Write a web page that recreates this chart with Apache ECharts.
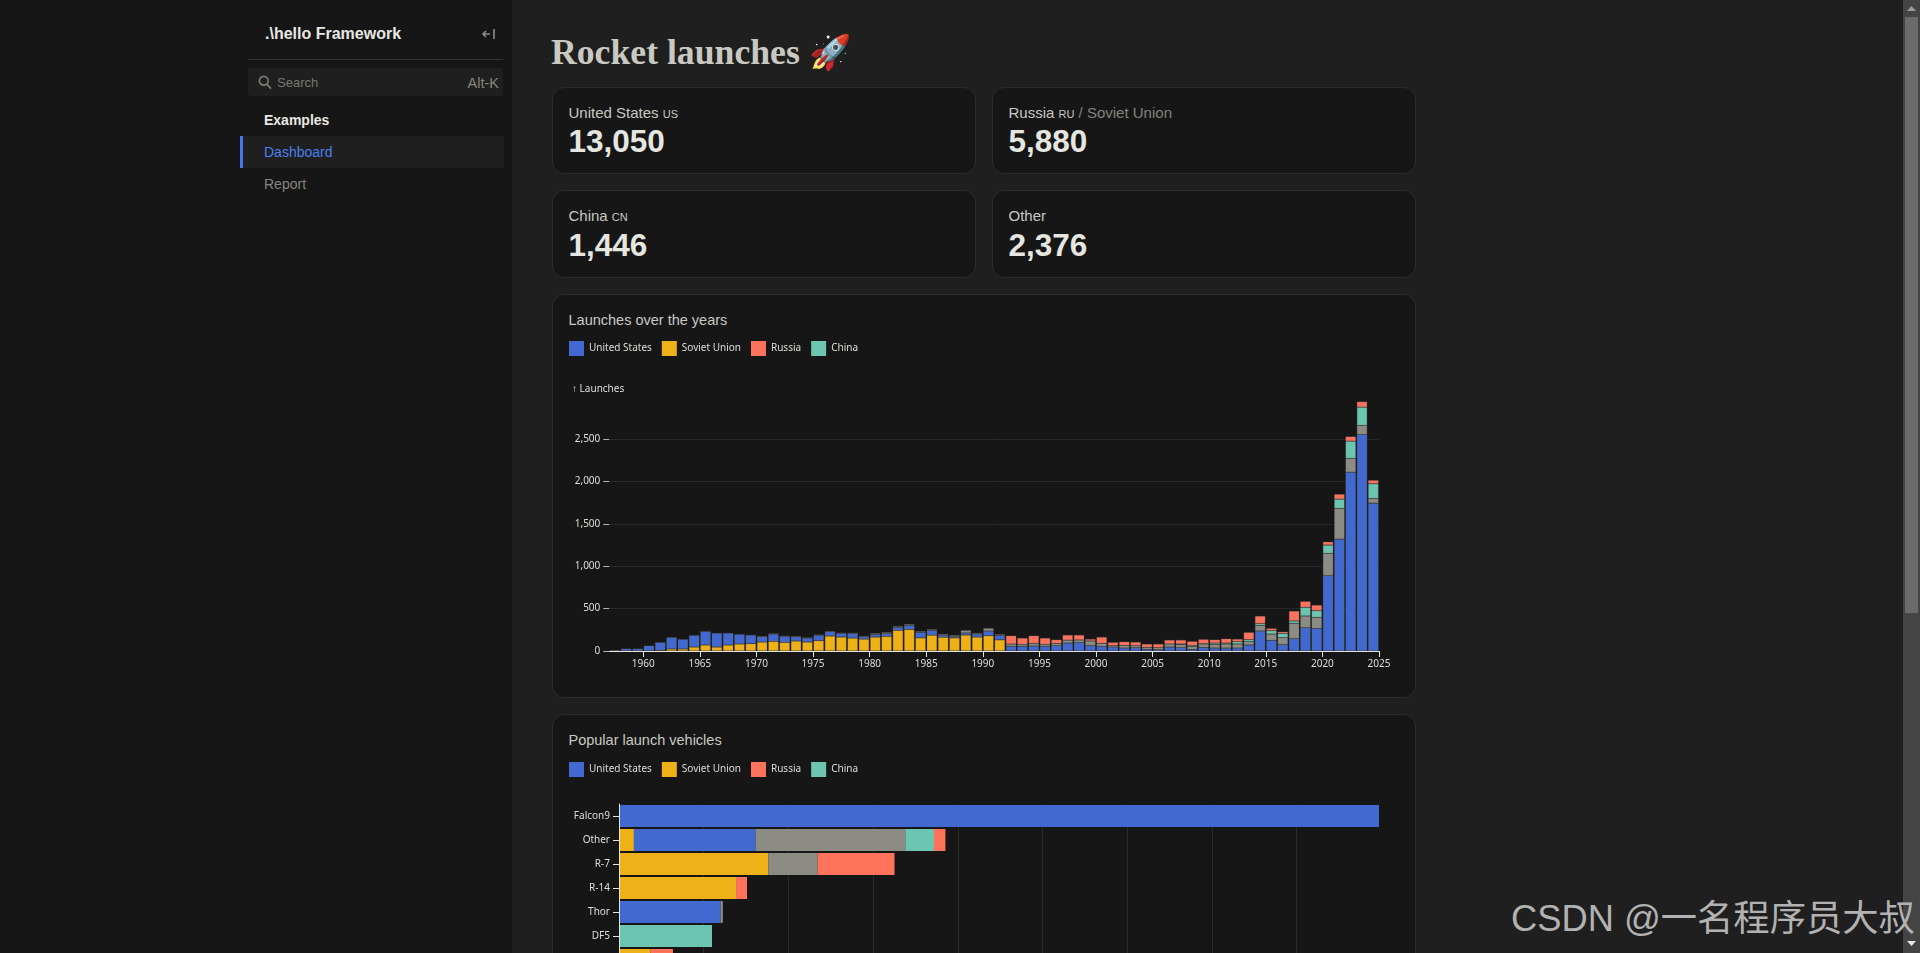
<!DOCTYPE html>
<html>
<head>
<meta charset="utf-8">
<title>Rocket launches</title>
<script src="https://cdn.jsdelivr.net/npm/echarts@6/dist/echarts.min.js"></script>
<style>
  html, body { margin: 0; height: 953px; overflow: hidden; background: #1f1f1f; }
  body { position: relative; width: 1920px; font-family: "Liberation Sans", Arial, sans-serif; color: #c9c9c2; }
  .abs { position: absolute; white-space: nowrap; }
  #sidebar { position: absolute; left: 0; top: 0; width: 512px; height: 953px; background: #161616; }
  .card { position: absolute; box-sizing: border-box; background: #161616; border: 1px solid #2c2c2c; border-radius: 12px; }
  .label { position: absolute; left: 15.5px; top: 15.5px; font-size: 15px; line-height: 18px; white-space: nowrap; }
  .label i { font-style: normal; font-variant: small-caps; }
  .label em { font-style: normal; color: #83837c; }
  .big { position: absolute; left: 15.5px; top: 34.5px; font-size: 31.5px; line-height: 38px; font-weight: 700; color: #e6e6e1; }
  .row1 .big { top: 33.5px; }
  .chart-title { position: absolute; left: 15.5px; top: 16px; font-size: 14.5px; line-height: 18px; }
  .chart { position: absolute; }
  #track { position: absolute; left: 1903px; top: 0; width: 17px; height: 953px; background: #444; }
  #thumb { position: absolute; left: 2px; top: 17px; width: 13px; height: 596px; background: #6b6b6b; }
  #mark { position: absolute; left: 1511px; top: 896px; font-size: 36.3px; line-height: 46px; color: #b2b2b2; white-space: nowrap;
          font-family: "Liberation Sans", "Noto Sans CJK SC", sans-serif; z-index: 5; }
</style>
</head>
<body>
<div id="sidebar"></div>
<div class="abs" style="left:265px;top:24px;font-size:16px;line-height:20px;font-weight:700;color:#e8e8e3">.\hello Framework</div>
<svg class="abs" style="left:481px;top:27px" width="15" height="14" viewBox="0 0 15 14" fill="none" stroke="#8d8d86" stroke-width="1.6"><path d="M9 7H2M5 4L2 7l3 3M13 2v10"/></svg>
<div class="abs" style="left:248px;top:59px;width:255px;height:1px;background:#333"></div>
<div class="abs" style="left:248px;top:68px;width:255px;height:28px;background:#1f1f1f;border-radius:4px"></div>
<svg class="abs" style="left:258px;top:75px" width="14" height="15" viewBox="0 0 14 15" fill="none" stroke="#7b7b74" stroke-width="1.7"><circle cx="5.8" cy="5.8" r="4.4"/><path d="M9 9.2l4 4.4"/></svg>
<div class="abs" style="left:277px;top:75px;font-size:13px;line-height:16px;color:#77776f">Search</div>
<div class="abs" style="right:1421px;top:74.5px;font-size:14.5px;line-height:17px;color:#85857d">Alt-K</div>
<div class="abs" style="left:264px;top:112px;font-size:14px;line-height:17px;font-weight:700;color:#e8e8e3">Examples</div>
<div class="abs" style="left:240px;top:136px;width:264px;height:32px;background:#1f1f1f"></div>
<div class="abs" style="left:240px;top:136px;width:3px;height:32px;background:#4477ee"></div>
<div class="abs" style="left:264px;top:144px;font-size:14px;line-height:17px;color:#4a7ff0">Dashboard</div>
<div class="abs" style="left:264px;top:176px;font-size:14px;line-height:17px;color:#85857d">Report</div>

<div class="abs" style="left:551px;top:30px;font-family:'Liberation Serif',serif;font-weight:700;font-size:35.7px;line-height:44px;color:#c9c9c2">Rocket launches <span style="font-size:34px;line-height:30px">🚀</span></div>

<div class="card row1" style="left:552px;top:87px;width:424px;height:87px">
  <div class="label">United States <i>us</i></div><div class="big">13,050</div>
</div>
<div class="card row1" style="left:992px;top:87px;width:424px;height:87px">
  <div class="label">Russia <i>ru</i> <em>/ Soviet Union</em></div><div class="big">5,880</div>
</div>
<div class="card" style="left:552px;top:190px;width:424px;height:88px">
  <div class="label">China <i>cn</i></div><div class="big">1,446</div>
</div>
<div class="card" style="left:992px;top:190px;width:424px;height:88px">
  <div class="label">Other</div><div class="big">2,376</div>
</div>

<div class="card" style="left:552px;top:294px;width:864px;height:404px">
  <div class="chart-title">Launches over the years</div>
</div>
<div id="chart_years" class="chart" style="left:553px;top:330px;width:862px;height:360px"></div>

<div class="card" style="left:552px;top:714px;width:864px;height:400px">
  <div class="chart-title">Popular launch vehicles</div>
</div>
<div id="chart_vehicles" class="chart" style="left:553px;top:753px;width:862px;height:240px"></div>

<div id="track">
  <svg class="abs" style="left:4px;top:6px" width="9" height="6"><path d="M4.5 0L9 5H0z" fill="#9a9a9a"/></svg>
  <div id="thumb"></div>
  <svg class="abs" style="left:4px;top:941px" width="9" height="6"><path d="M0 0H9L4.5 5z" fill="#e8e8e8"/></svg>
</div>
<div id="mark">CSDN @一名程序员大叔</div>

<script>
const years = [1957, 1958, 1959, 1960, 1961, 1962, 1963, 1964, 1965, 1966, 1967, 1968, 1969,
  1970, 1971, 1972, 1973, 1974, 1975, 1976, 1977, 1978, 1979, 1980, 1981, 1982, 1983, 1984,
  1985, 1986, 1987, 1988, 1989, 1990, 1991, 1992, 1993, 1994, 1995, 1996, 1997, 1998, 1999,
  2000, 2001, 2002, 2003, 2004, 2005, 2006, 2007, 2008, 2009, 2010, 2011, 2012, 2013, 2014,
  2015, 2016, 2017, 2018, 2019, 2020, 2021, 2022, 2023, 2024];

const sovietByYear = [4, 4, 4, 4, 8, 24, 24, 47, 71, 47, 71, 83, 87,
  106, 114, 102, 118, 106, 122, 177, 165, 153, 141, 165, 173, 244, 255, 155,
  187, 163, 155, 189, 165, 181, 132, 0, 0, 0, 0, 0, 0, 0, 0,
  0, 0, 0, 0, 0, 0, 0, 0, 0, 0, 0, 0, 0, 0, 0,
  0, 0, 0, 0, 0, 0, 0, 0, 0, 0];
const usByYear = [4, 24, 24, 59, 94, 137, 114, 138, 161, 165, 141, 114, 102,
  63, 86, 71, 51, 47, 63, 51, 43, 55, 28, 31, 31, 35, 47, 65,
  56, 25, 14, 24, 35, 55, 51, 55, 55, 59, 55, 63, 94, 98, 63,
  55, 47, 35, 39, 20, 16, 47, 39, 20, 43, 35, 35, 35, 71, 236,
  126, 75, 145, 275, 267, 888, 1320, 2110, 2554, 1745];
const otherByYear = [0, 0, 0, 0, 0, 0, 0, 0, 0, 0, 0, 0, 0,
  4, 8, 4, 4, 4, 8, 4, 4, 4, 8, 12, 16, 12, 14, 12,
  12, 12, 16, 31, 12, 33, 14, 27, 24, 31, 24, 27, 34, 32, 55,
  35, 16, 32, 24, 23, 23, 36, 36, 35, 40, 44, 48, 48, 39, 67,
  74, 82, 181, 138, 130, 263, 362, 162, 107, 55];
const chinaByYear = [0, 0, 0, 0, 0, 0, 0, 0, 0, 0, 0, 0, 0,
  0, 0, 0, 0, 0, 0, 0, 0, 0, 0, 0, 0, 0, 0, 0,
  0, 0, 0, 0, 0, 0, 0, 0, 0, 0, 0, 0, 0, 0, 0,
  0, 0, 0, 0, 0, 0, 0, 8, 12, 4, 15, 11, 27, 24, 19,
  40, 51, 28, 102, 79, 99, 110, 204, 216, 173];
const russiaByYear = [0, 0, 0, 0, 0, 0, 0, 0, 0, 0, 0, 0, 0,
  0, 0, 0, 0, 0, 0, 0, 0, 0, 0, 0, 0, 0, 0, 0,
  0, 0, 0, 0, 0, 0, 0, 99, 74, 91, 74, 44, 61, 59, 23,
  75, 39, 43, 43, 40, 44, 47, 47, 47, 51, 40, 51, 31, 86, 91,
  27, 20, 118, 71, 66, 39, 59, 55, 66, 43];

const yearTicks = [1960, 1965, 1970, 1975, 1980, 1985, 1990, 1995, 2000, 2005, 2010, 2015, 2020, 2025];
const launchTicks = [0, 500, 1000, 1500, 2000, 2500];

const vehicles = ["Falcon9", "Other", "R-7", "R-14", "Thor", "DF5", "R-36"];
const sovietByVehicle = [0, 176, 1762, 1382, 0, 0, 373];
const usByVehicle = [8973, 1436, 0, 0, 1199, 0, 0];
const otherByVehicle = [0, 1768, 583, 0, 27, 0, 0];
const chinaByVehicle = [0, 339, 0, 0, 0, 1098, 0];
const russiaByVehicle = [0, 135, 908, 129, 0, 0, 264];

const colors = { us: "#4269d0", soviet: "#efb118", russia: "#ff725c", china: "#6cc5b0", other: "#8c8c85" };
const legendNames = ["United States", "Soviet Union", "Russia", "China"];
const labelColor = "#dededa";
const chartFont = "Noto Sans";

const legend = {
  data: legendNames,
  left: 16,
  padding: 0,
  itemWidth: 15,
  itemHeight: 15,
  itemGap: 10,
  icon: "rect",
  itemStyle: { borderWidth: 0 },
  textStyle: { color: labelColor, fontSize: 10, fontFamily: chartFont }
};

// stacking order is the same in both charts, soviet at the base
function stackSeries(arrays, extra) {
  const defs = [
    ["Soviet Union", colors.soviet, arrays.soviet],
    ["United States", colors.us, arrays.us],
    ["Other", colors.other, arrays.other],
    ["China", colors.china, arrays.china],
    ["Russia", colors.russia, arrays.russia]
  ];
  return defs.map(d => ({
    name: d[0],
    type: "bar",
    stack: "total",
    color: d[1],
    data: d[2].map(v => v || null),
    ...extra
  }));
}

const yearsChart = echarts.init(document.getElementById("chart_years"));
yearsChart.setOption({
  animation: false,
  textStyle: { fontFamily: chartFont },
  legend: { ...legend, top: 11 },
  title: {
    text: "↑ Launches",
    left: 19,
    top: 54,
    padding: 0,
    textStyle: { color: labelColor, fontSize: 10, fontWeight: "normal", fontFamily: chartFont }
  },
  grid: { left: 56.3, right: 36, top: 71, height: 250 },
  // the bars sit on the category axis, the year ticks fall on the band edges so they come from a value axis on top
  xAxis: [
    {
      type: "category",
      position: "bottom",
      data: years,
      axisLine: { show: false },
      axisTick: { show: false },
      axisLabel: { show: false }
    },
    {
      type: "value",
      position: "bottom",
      min: 1957,
      max: 2025,
      z: 5,
      splitLine: { show: false },
      axisLine: { show: true, lineStyle: { color: "#e4e4e0", width: 1 } },
      axisTick: { show: true, length: 6, customValues: yearTicks, lineStyle: { color: "#e4e4e0" } },
      axisLabel: { customValues: yearTicks, color: labelColor, fontSize: 10, margin: 8, formatter: v => String(v) }
    }
  ],
  yAxis: {
    type: "value",
    min: 0,
    max: 2950,
    axisLine: { show: false },
    axisTick: { show: true, length: 6, customValues: launchTicks, lineStyle: { color: "#b5b5b0" } },
    axisLabel: { customValues: launchTicks, color: labelColor, fontSize: 10, margin: 9, formatter: v => v.toLocaleString("en-US") },
    splitLine: { lineStyle: { color: "#282828" } }
  },
  series: stackSeries(
    { soviet: sovietByYear, us: usByYear, other: otherByYear, china: chinaByYear, russia: russiaByYear },
    { barWidth: 10.4, xAxisIndex: 0, itemStyle: { borderColor: "rgba(110,110,110,0.45)", borderWidth: 0.6 } }
  )
});

const vehiclesChart = echarts.init(document.getElementById("chart_vehicles"));
vehiclesChart.setOption({
  animation: false,
  textStyle: { fontFamily: chartFont },
  legend: { ...legend, top: 9 },
  grid: { left: 66, right: 36, top: 51, height: 168 },
  xAxis: {
    type: "value",
    min: 0,
    max: 8973,
    interval: 1000,
    axisLine: { show: false },
    axisTick: { show: false },
    axisLabel: { show: false },
    splitLine: { showMaxLine: false, lineStyle: { color: "#282828" } }
  },
  yAxis: {
    type: "category",
    inverse: true,
    data: vehicles,
    z: 5,
    axisLine: { show: true, lineStyle: { color: "#e4e4e0", width: 1 } },
    axisTick: { show: true, length: 6, alignWithLabel: true, lineStyle: { color: "#e4e4e0" } },
    axisLabel: { color: labelColor, fontSize: 10, margin: 9 },
    splitLine: { show: false }
  },
  series: stackSeries(
    { soviet: sovietByVehicle, us: usByVehicle, other: otherByVehicle, china: chinaByVehicle, russia: russiaByVehicle },
    { barWidth: 22 }
  )
});
</script>
</body>
</html>
